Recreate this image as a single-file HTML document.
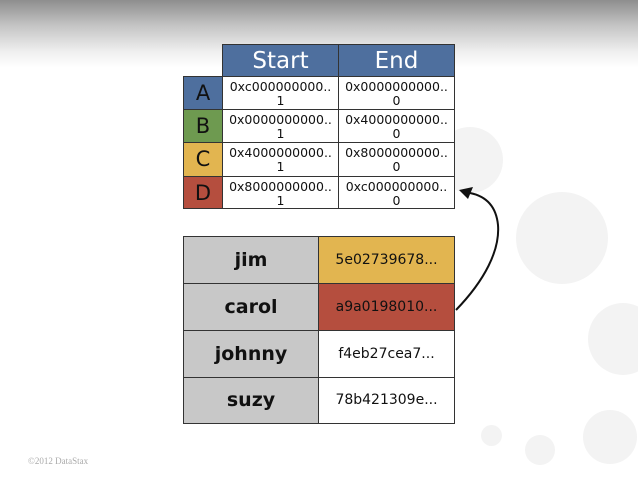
<!DOCTYPE html>
<html><head><style>
body{margin:0;width:638px;height:479px;overflow:hidden;background:#fff;position:relative;font-family:"DejaVu Sans","Liberation Sans",sans-serif}
.a{position:absolute;box-sizing:border-box}
.top{left:0;top:0;width:638px;height:85px;background:linear-gradient(#8e8e8e,#c4c4c4 30%,#eee 60%,#fff 80%)}
.c{position:absolute;border-radius:50%;background:#f3f3f3}
.h{background:#4e6f9e;color:#fff;font-size:23px;text-align:center;line-height:32px;border:1px solid #333}
.l{font-size:21px;text-align:center;line-height:32px;border:1px solid #333;color:#111}
.v{background:#fff;border:1px solid #333;font-size:12.5px;text-align:center;line-height:14px;padding-top:3px;color:#111}
.n{background:#c8c8c8;border:1px solid #333;font-size:19px;font-weight:bold;text-align:center;color:#111}
.k{border:1px solid #333;font-size:14px;text-align:center;color:#111}
</style></head><body>
<div class="a top"></div>
<div class="c" style="left:437px;top:127px;width:66px;height:66px"></div>
<div class="c" style="left:516px;top:192px;width:92px;height:92px"></div>
<div class="c" style="left:588px;top:303px;width:70px;height:72px"></div>
<div class="c" style="left:583px;top:410px;width:54px;height:54px"></div>
<div class="c" style="left:525px;top:435px;width:30px;height:30px"></div>
<div class="c" style="left:481px;top:425px;width:21px;height:21px"></div>
<div class="a h" style="left:222px;top:44px;width:117px;height:33px">Start</div>
<div class="a h" style="left:338px;top:44px;width:117px;height:33px">End</div>

<div class="a l" style="left:183px;top:76px;width:40px;height:34px;background:#4e6f9e">A</div>
<div class="a l" style="left:183px;top:109px;width:40px;height:34px;background:#6e9a50">B</div>
<div class="a l" style="left:183px;top:142px;width:40px;height:35px;background:#e2b550">C</div>
<div class="a l" style="left:183px;top:176px;width:40px;height:33px;background:#b54e3e">D</div>

<div class="a v" style="left:222px;top:76px;width:117px;height:34px">0xc000000000..<br>1</div>
<div class="a v" style="left:338px;top:76px;width:117px;height:34px">0x0000000000..<br>0</div>
<div class="a v" style="left:222px;top:109px;width:117px;height:34px">0x0000000000..<br>1</div>
<div class="a v" style="left:338px;top:109px;width:117px;height:34px">0x4000000000..<br>0</div>
<div class="a v" style="left:222px;top:142px;width:117px;height:35px">0x4000000000..<br>1</div>
<div class="a v" style="left:338px;top:142px;width:117px;height:35px">0x8000000000..<br>0</div>
<div class="a v" style="left:222px;top:176px;width:117px;height:33px">0x8000000000..<br>1</div>
<div class="a v" style="left:338px;top:176px;width:117px;height:33px">0xc000000000..<br>0</div>

<div class="a n" style="left:183px;top:236px;width:136px;height:48px;line-height:46px">jim</div>
<div class="a n" style="left:183px;top:283px;width:136px;height:48px;line-height:46px">carol</div>
<div class="a n" style="left:183px;top:330px;width:136px;height:48px;line-height:46px">johnny</div>
<div class="a n" style="left:183px;top:377px;width:136px;height:47px;line-height:45px">suzy</div>
<div class="a k" style="left:318px;top:236px;width:137px;height:48px;line-height:46px;background:#e2b550">5e02739678...</div>
<div class="a k" style="left:318px;top:283px;width:137px;height:48px;line-height:46px;background:#b54e3e">a9a0198010...</div>
<div class="a k" style="left:318px;top:330px;width:137px;height:48px;line-height:46px;background:#fff">f4eb27cea7...</div>
<div class="a k" style="left:318px;top:377px;width:137px;height:47px;line-height:45px;background:#fff">78b421309e...</div>

<svg class="a" style="left:0;top:0" width="638" height="479">
<path d="M456,310 C485,280 500,250 498,225 C496,205 485,196 470,193" fill="none" stroke="#111" stroke-width="2"/>
<polygon points="459,190 473,187 468,199" fill="#111"/>
</svg>
<div class="a" style="left:28px;top:456px;font-size:9px;color:#aaa;font-family:'Liberation Serif',serif">©2012 DataStax</div>
</body></html>
